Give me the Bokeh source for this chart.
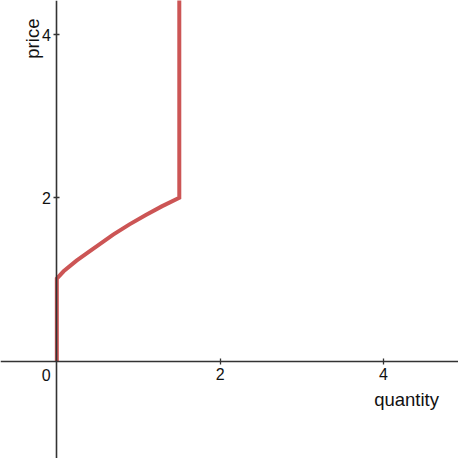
import math
from bokeh.plotting import figure
from bokeh.models import Range1d, FixedTicker, Label
from bokeh.embed import file_html
from bokeh.resources import INLINE

# supply curve
quantity = [0.0, 0.0, 0.083, 0.241, 0.40, 0.50, 0.69, 0.89, 1.09, 1.285, 1.50, 1.50]
price =    [0.0, 1.01, 1.10, 1.23, 1.345, 1.415, 1.55, 1.675, 1.79, 1.895, 2.0, 4.7]

x_ticks = [2, 4]
y_ticks = [2, 4]
x_label = "quantity"
y_label = "price"
origin_label = "0"

FONT = "Liberation Sans"
TICK_SIZE = "16px"

p = figure(width=458, height=458, output_backend="svg", toolbar_location=None,
           x_range=Range1d(-0.69, 4.92), y_range=Range1d(-1.193, 4.417),
           min_border=0, outline_line_color=None)
p.grid.visible = False
p.background_fill_color = "white"

for ax, ticks in ((p.xaxis, x_ticks), (p.yaxis, y_ticks)):
    ax.fixed_location = 0
    ax.ticker = FixedTicker(ticks=ticks)
    ax.minor_tick_line_color = None
    ax.axis_line_color = "#333333"
    ax.axis_line_width = 1.6
    ax.major_tick_line_color = "#333333"
    ax.major_tick_line_width = 1.3
    ax.major_tick_in = 3
    ax.major_tick_out = 3
    ax.major_label_text_font = FONT
    ax.major_label_text_font_size = TICK_SIZE
    ax.major_label_text_color = "#111111"
p.xaxis.major_label_standoff = 4
p.yaxis.major_label_standoff = 3

p.line(quantity, price, line_color="#cc5555", line_width=4, line_join="miter")

p.add_layout(Label(x=-0.13, y=-0.166, text=origin_label, text_align="center", text_baseline="middle",
                   text_font=FONT, text_font_size=TICK_SIZE, text_color="#111111"))
p.add_layout(Label(x=4.284, y=-0.47, text=x_label, text_align="center", text_baseline="alphabetic",
                   text_font=FONT, text_font_size="18.5px", text_color="#111111"))
p.add_layout(Label(x=-0.30, y=3.95, text=y_label, angle=math.pi / 2, text_align="center",
                   text_baseline="alphabetic", text_font=FONT, text_font_size="18.5px", text_color="#111111"))

open("out.html", "w").write(file_html(p, INLINE))
